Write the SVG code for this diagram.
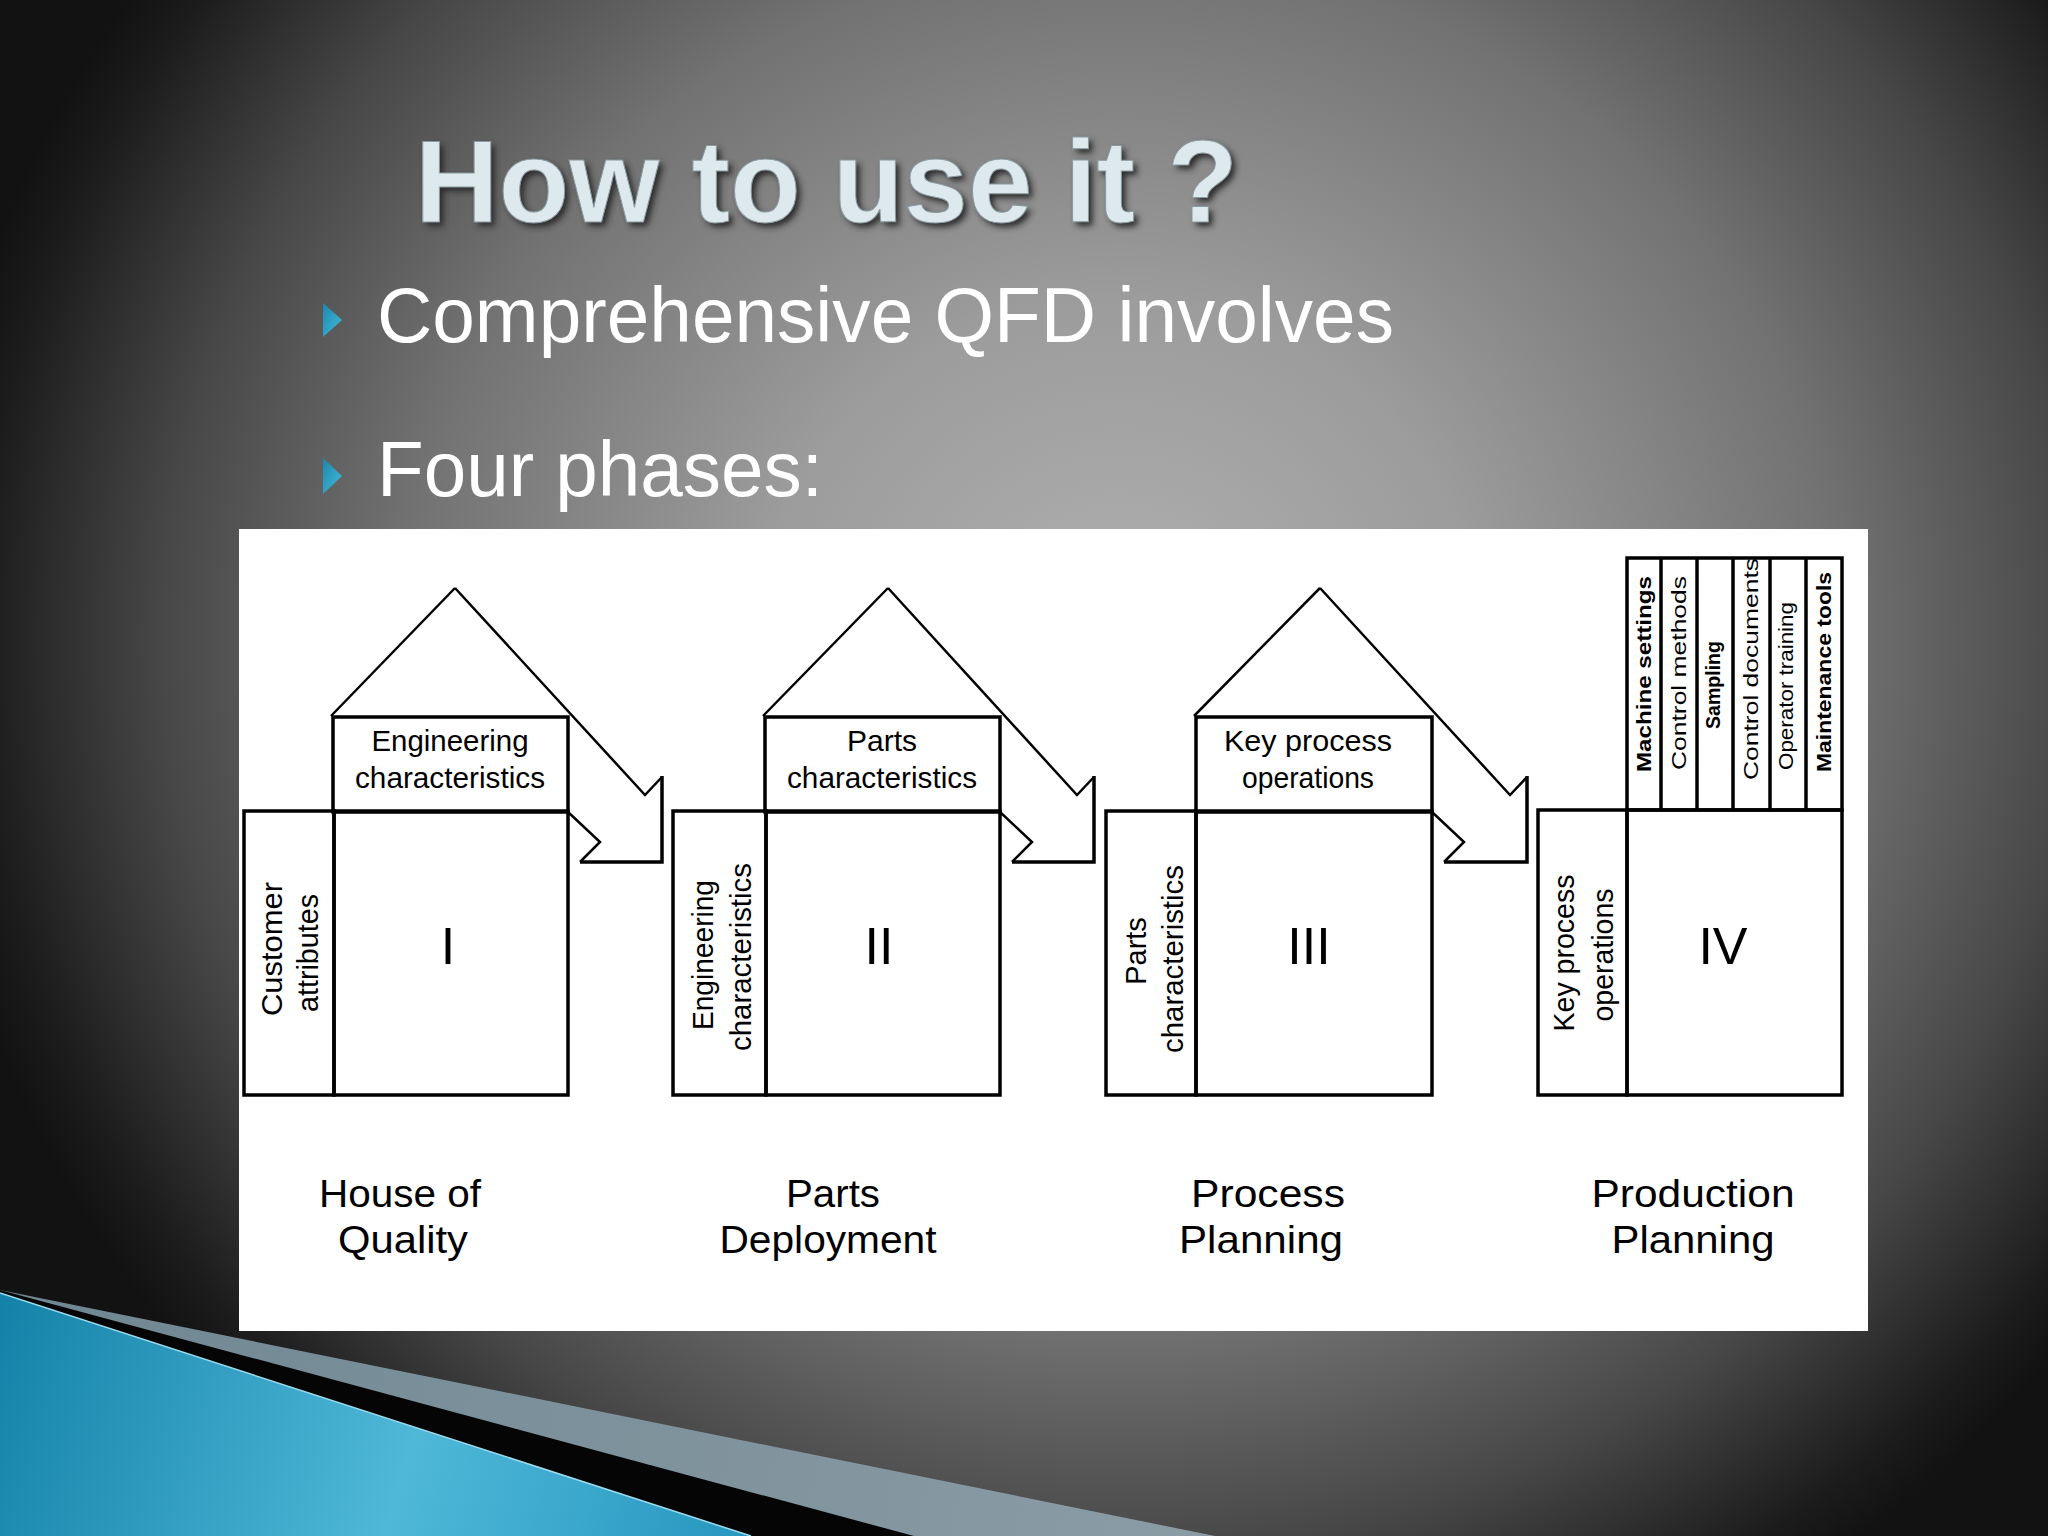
<svg xmlns="http://www.w3.org/2000/svg" width="2048" height="1536" viewBox="0 0 2048 1536">
<defs>
<radialGradient id="bg" gradientUnits="userSpaceOnUse" cx="1120" cy="640" r="1200" gradientTransform="translate(1120 640) scale(1 0.95) translate(-1120 -640)">
<stop offset="0" stop-color="#b0b0b0"/>
<stop offset="0.3" stop-color="#9c9c9c"/>
<stop offset="0.6" stop-color="#727272"/>
<stop offset="0.8" stop-color="#474747"/>
<stop offset="0.95" stop-color="#1c1c1c"/>
<stop offset="1" stop-color="#121212"/>
</radialGradient>
<linearGradient id="blue" gradientUnits="userSpaceOnUse" x1="0" y1="1300" x2="760" y2="1536">
<stop offset="0" stop-color="#1482a8"/>
<stop offset="0.55" stop-color="#4fb8d8"/>
<stop offset="1" stop-color="#2596bf"/>
</linearGradient>
<linearGradient id="grayband" gradientUnits="userSpaceOnUse" x1="0" y1="1300" x2="1215" y2="1536">
<stop offset="0" stop-color="#6f8792"/>
<stop offset="1" stop-color="#8b9ca5"/>
</linearGradient>
<linearGradient id="bullet" x1="0" y1="0" x2="1" y2="1">
<stop offset="0" stop-color="#1c86ad"/>
<stop offset="1" stop-color="#45bddc"/>
</linearGradient>
<filter id="shadow" x="-5%" y="-20%" width="110%" height="140%">
<feGaussianBlur stdDeviation="3"/>
</filter>
<style>
.box{fill:none;stroke:#000;stroke-width:3.5}
.roof{fill:none;stroke:#000;stroke-width:2.5;stroke-linejoin:miter}
.thick{fill:none;stroke:#000;stroke-width:3.5}
.lbl{font-family:"Liberation Sans",Arial,sans-serif;fill:#000}
.top{font-size:30px;text-anchor:middle}
.side{font-size:29px;text-anchor:middle}
.num{font-size:52px;text-anchor:middle}
.phase{font-size:38px;text-anchor:middle}
.col{font-size:20px;text-anchor:middle}
.b{font-weight:bold}
.bul{font-family:"Liberation Sans",Arial,sans-serif;font-size:77px;fill:#ffffff}
</style>
</defs>
<rect x="0" y="0" width="2048" height="1536" fill="url(#bg)"/>
<g id="swoosh">
<polygon points="0,1290 1215,1536 0,1536" fill="url(#grayband)"/>
<polygon points="0,1290 914,1536 0,1536" fill="#050505"/>
<polygon points="0,1293 751,1536 0,1536" fill="url(#blue)"/>
<line x1="0" y1="1293" x2="751" y2="1536" stroke="#9adcee" stroke-width="1.5"/>
</g>
<g id="title">
<text x="419" y="226" font-family="Liberation Sans,Arial,sans-serif" font-weight="bold" font-size="117" textLength="823" lengthAdjust="spacingAndGlyphs" fill="#2a2a2a" filter="url(#shadow)">How to use it ?</text>
<text x="415" y="222" font-family="Liberation Sans,Arial,sans-serif" font-weight="bold" font-size="117" textLength="823" lengthAdjust="spacingAndGlyphs" fill="#dde9ed" stroke="#8a9aa0" stroke-width="1">How to use it ?</text>
</g>
<g id="bullets">
<polygon points="323,303 342,320 323,337" fill="url(#bullet)"/>
<text class="bul" x="377" y="342" textLength="1017" lengthAdjust="spacingAndGlyphs">Comprehensive QFD involves</text>
<polygon points="323,458 342,476 323,494" fill="url(#bullet)"/>
<text class="bul" x="377" y="496" textLength="446" lengthAdjust="spacingAndGlyphs">Four phases:</text>
</g>
<rect id="panel" x="239" y="529" width="1629" height="802" fill="#ffffff"/>
<g id="house-1">
<rect class="box" x="333" y="717" width="235" height="95"/>
<rect class="box" x="244" y="811" width="90" height="284"/>
<rect class="box" x="334" y="811" width="234" height="284"/>
<polyline class="roof" points="331,716 455,588"/>
<text class="lbl top" x="450" y="751" textLength="157" lengthAdjust="spacingAndGlyphs">Engineering</text>
<text class="lbl top" x="450" y="788" textLength="190" lengthAdjust="spacingAndGlyphs">characteristics</text>
<text class="lbl side" transform="translate(282 949) rotate(-90)" textLength="134" lengthAdjust="spacingAndGlyphs">Customer</text>
<text class="lbl side" transform="translate(318 953) rotate(-90)" textLength="118" lengthAdjust="spacingAndGlyphs">attributes</text>
<text class="lbl num" x="448" y="964">I</text>
</g>
<g id="house-2">
<rect class="box" x="765" y="717" width="235" height="95"/>
<rect class="box" x="673" y="811" width="93" height="284"/>
<rect class="box" x="766" y="811" width="234" height="284"/>
<polyline class="roof" points="763,716 888,588"/>
<text class="lbl top" x="882" y="751">Parts</text>
<text class="lbl top" x="882" y="788" textLength="190" lengthAdjust="spacingAndGlyphs">characteristics</text>
<text class="lbl side" transform="translate(713 955) rotate(-90)" textLength="150" lengthAdjust="spacingAndGlyphs">Engineering</text>
<text class="lbl side" transform="translate(751 957) rotate(-90)" textLength="188" lengthAdjust="spacingAndGlyphs">characteristics</text>
<text class="lbl num" x="879" y="964">II</text>
</g>
<g id="house-3">
<rect class="box" x="1196" y="717" width="236" height="95"/>
<rect class="box" x="1106" y="811" width="90" height="284"/>
<rect class="box" x="1196" y="811" width="236" height="284"/>
<polyline class="roof" points="1194,716 1320,588"/>
<text class="lbl top" x="1308" y="751" textLength="168" lengthAdjust="spacingAndGlyphs">Key process</text>
<text class="lbl top" x="1308" y="788" textLength="132" lengthAdjust="spacingAndGlyphs">operations</text>
<text class="lbl side" transform="translate(1146 951) rotate(-90)">Parts</text>
<text class="lbl side" transform="translate(1183 959) rotate(-90)" textLength="188" lengthAdjust="spacingAndGlyphs">characteristics</text>
<text class="lbl num" x="1309" y="964">III</text>
</g>
<g id="house-4">
<rect class="box" x="1627" y="558" width="215" height="252"/>
<line class="box" x1="1661" y1="558" x2="1661" y2="810"/>
<line class="box" x1="1697" y1="558" x2="1697" y2="810"/>
<line class="box" x1="1733" y1="558" x2="1733" y2="810"/>
<line class="box" x1="1770" y1="558" x2="1770" y2="810"/>
<line class="box" x1="1806" y1="558" x2="1806" y2="810"/>
<rect class="box" x="1538" y="810" width="89" height="285"/>
<rect class="box" x="1627" y="810" width="215" height="285"/>
<text class="lbl col b" transform="translate(1651 674) rotate(-90)" textLength="196" lengthAdjust="spacingAndGlyphs">Machine settings</text>
<text class="lbl col" transform="translate(1686 673) rotate(-90)" textLength="194" lengthAdjust="spacingAndGlyphs">Control methods</text>
<text class="lbl col b" transform="translate(1720 685) rotate(-90)" font-size="17" textLength="88" lengthAdjust="spacingAndGlyphs">Sampling</text>
<text class="lbl col" transform="translate(1758 669) rotate(-90)" textLength="222" lengthAdjust="spacingAndGlyphs">Control documents</text>
<text class="lbl col" transform="translate(1793 686) rotate(-90)" font-size="17" textLength="168" lengthAdjust="spacingAndGlyphs">Operator training</text>
<text class="lbl col b" transform="translate(1831 672) rotate(-90)" textLength="200" lengthAdjust="spacingAndGlyphs">Maintenance tools</text>
<text class="lbl side" transform="translate(1574 953) rotate(-90)" textLength="157" lengthAdjust="spacingAndGlyphs">Key process</text>
<text class="lbl side" transform="translate(1613 955) rotate(-90)" textLength="133" lengthAdjust="spacingAndGlyphs">operations</text>
<text class="lbl num" x="1723" y="964">IV</text>
</g>
<g id="connectors">
<polyline class="roof" points="455,588 645,795 662,777"/>
<polyline class="roof" points="568,812 600,842 580,862"/>
<polyline class="thick" points="580,862 662,862 662,776"/>
<polyline class="roof" points="888,588 1077,795 1094,777"/>
<polyline class="roof" points="1000,812 1032,842 1012,862"/>
<polyline class="thick" points="1012,862 1094,862 1094,776"/>
<polyline class="roof" points="1320,588 1510,795 1527,777"/>
<polyline class="roof" points="1432,812 1464,842 1444,862"/>
<polyline class="thick" points="1444,862 1527,862 1527,776"/>
</g>
<g id="phase-labels">
<text class="lbl phase" x="400" y="1207" textLength="162" lengthAdjust="spacingAndGlyphs">House of</text>
<text class="lbl phase" x="403" y="1253" textLength="130" lengthAdjust="spacingAndGlyphs">Quality</text>
<text class="lbl phase" x="833" y="1207" textLength="94" lengthAdjust="spacingAndGlyphs">Parts</text>
<text class="lbl phase" x="828" y="1253" textLength="217" lengthAdjust="spacingAndGlyphs">Deployment</text>
<text class="lbl phase" x="1268" y="1207" textLength="154" lengthAdjust="spacingAndGlyphs">Process</text>
<text class="lbl phase" x="1261" y="1253" textLength="164" lengthAdjust="spacingAndGlyphs">Planning</text>
<text class="lbl phase" x="1693" y="1207" textLength="203" lengthAdjust="spacingAndGlyphs">Production</text>
<text class="lbl phase" x="1693" y="1253" textLength="163" lengthAdjust="spacingAndGlyphs">Planning</text>
</g>
</svg>
